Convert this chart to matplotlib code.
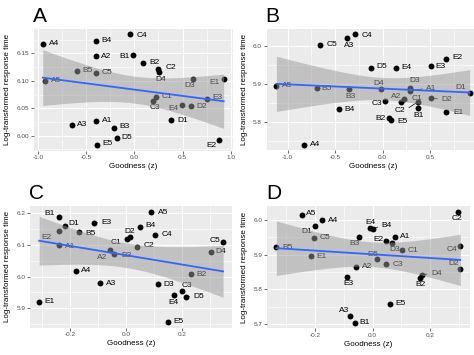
import numpy as np
import matplotlib
matplotlib.use("Agg")
import matplotlib.pyplot as plt
from matplotlib.ticker import MultipleLocator

plt.rcParams['font.family'] = ['Liberation Sans', 'DejaVu Sans']

# ---------------- data ----------------
names = ['A1', 'A2', 'A3', 'A4', 'A5', 'B1', 'B2', 'B3', 'B4', 'B5',
         'C1', 'C2', 'C3', 'C4', 'C5', 'D1', 'D2', 'D3', 'D4', 'D5',
         'E1', 'E2', 'E3', 'E4', 'E5']

panel_letters = ['A', 'B', 'C', 'D']

x_A = [-0.398, -0.401, -0.651, -0.952, -0.927, -0.017, 0.093, -0.208, -0.401, -0.599,
       0.228, 0.249, 0.197, -0.045, -0.398, 0.384, 0.588, 0.612, 0.253, -0.183,
       0.927, 0.882, 0.751, 0.491, -0.388]
y_A = [6.026, 6.145, 6.020, 6.168, 6.100, 6.148, 6.132, 6.014, 6.172, 6.118,
       6.070, 6.121, 6.064, 6.185, 6.114, 6.028, 6.054, 6.104, 6.116, 5.996,
       6.104, 5.992, 6.067, 6.056, 5.983]

x_B = [0.284, 0.221, -0.372, -0.832, -1.119, 0.372, 0.063, -0.351, -0.463, -0.691,
       0.196, 0.372, 0.028, -0.288, -0.656, 0.916, 0.512, 0.284, -0.021, -0.126,
       0.670, 0.667, 0.505, 0.140, 0.091]
y_B = [5.880, 5.860, 6.020, 5.739, 5.894, 5.835, 5.810, 5.885, 5.833, 5.888,
       5.852, 5.852, 5.854, 6.030, 6.002, 5.874, 5.863, 5.889, 5.885, 5.942,
       5.825, 5.964, 5.946, 5.941, 5.804]

x_C = [-0.242, -0.058, -0.094, -0.180, 0.090, -0.242, 0.230, -0.043, 0.049, -0.169,
       0.002, 0.040, 0.199, 0.104, 0.346, -0.218, 0.014, 0.114, 0.301, 0.215,
       -0.311, -0.242, -0.117, 0.171, 0.149]
y_C = [6.100, 6.085, 5.979, 6.019, 6.206, 6.190, 6.008, 6.070, 6.156, 6.142,
       6.119, 6.095, 5.953, 6.133, 6.108, 6.161, 6.124, 5.976, 6.078, 5.936,
       5.920, 6.145, 6.170, 5.941, 5.856]

x_D = [0.078, -0.057, -0.078, -0.177, -0.246, -0.061, 0.166, -0.049, 0.001, -0.335,
       0.102, 0.298, 0.048, 0.305, -0.203, -0.201, 0.304, 0.066, 0.172, 0.016,
       -0.215, 0.048, -0.088, -0.009, 0.061]
y_D = [5.951, 5.865, 5.724, 5.999, 6.014, 5.704, 5.833, 5.951, 5.974, 5.921,
       5.912, 6.023, 5.872, 5.924, 5.949, 5.981, 5.860, 5.933, 5.842, 5.886,
       5.896, 5.940, 5.835, 5.977, 5.758]

x_ticks_A = [-1.0, -0.5, 0.0, 0.5, 1.0]
y_ticks_A = [6.00, 6.05, 6.10, 6.15]
x_ticks_B = [-1.0, -0.5, 0.0, 0.5]
y_ticks_B = [5.8, 5.9, 6.0]
x_ticks_C = [-0.2, 0.0, 0.2]
y_ticks_C = [5.9, 6.0, 6.1, 6.2]
x_ticks_D = [-0.2, 0.0, 0.2]
y_ticks_D = [5.7, 5.8, 5.9, 6.0]

x_label = 'Goodness (z)'
y_label = 'Log-transformed response time'

# ---------------- layout / style ----------------
W, H = 474, 355
# panel boxes in pixels: left, top, right, bottom
boxes = {'A': (33.7, 28.7, 232.7, 150.5),
         'B': (266.7, 28.7, 479.3, 150.3),
         'C': (30.0, 206.0, 232.3, 327.5),
         'D': (267.2, 206.3, 469.5, 328.3)}
col_left = {'A': 0, 'B': 237, 'C': 0, 'D': 237}

# label offsets (pixels, dy up) and which ones get a segment
offsets = {
    'A': {'A4': (11.3, 0), 'B4': (10.3, 0.7), 'A2': (10.3, 0), 'C4': (11.7, -1.7),
          'B1': (-8.7, -1.7), 'B2': (10.7, 0.7), 'C2': (12.3, 2.3), 'D4': (2.3, -7),
          'B5': (10.7, 0.7), 'C5': (11, 0.7), 'A5': (11, 0), 'D3': (-3.3, -7),
          'E1': (-8.7, -4), 'C1': (11, 1), 'C3': (2, -7), 'E4': (-8, -3.3),
          'D2': (10.3, 0), 'E3': (11, 1.7), 'A3': (10.7, 0), 'A1': (10.7, 1),
          'B3': (10.3, 1), 'D1': (11.7, 0), 'D5': (10.3, 0), 'E5': (10.3, 1),
          'E2': (-7.7, -5)},
    'B': {'C4': (12, -1), 'A3': (2, -7), 'C5': (11.3, 0), 'D5': (11, 1), 'E4': (11, 1),
          'E3': (10.3, 0), 'E2': (11, 1.7), 'A5': (10.7, 0), 'B5': (10, 0),
          'B3': (1.3, -6.7), 'D4': (-2, 6), 'D3': (5, 7.7), 'A1': (22, 3),
          'A2': (-8, 2), 'C1': (15.7, 3), 'C2': (-18.3, -8.3), 'C3': (-8.3, -2.7),
          'B1': (0.7, -7.3), 'D2': (15.7, -2), 'E1': (12.3, 0), 'D1': (-9.3, 6.3),
          'B4': (11, 0), 'B2': (-7.7, -1), 'E5': (11.3, -1.3), 'A4': (11.3, 0)},
    'C': {'B1': (-8.7, 3), 'D1': (8.7, 2.7), 'E2': (-12, -6.7), 'A1': (12, -1.7),
          'B5': (11.3, -1.7), 'E3': (13, 0.7), 'A5': (11.3, -0.7), 'B4': (10.7, 2.3),
          'C4': (11.3, 0), 'D2': (-0.3, 6), 'C1': (-11.3, -4), 'A2': (-8.3, -7.3),
          'B3': (12.3, -1.3), 'C2': (11.3, 0.7), 'C5': (-8.3, 2.3), 'D4': (10.3, 0),
          'A4': (10.7, 0), 'A3': (11, 0), 'B2': (11, 0), 'D3': (11, 0),
          'C3': (4.7, 6), 'E4': (-1, -7), 'D5': (12.7, 0), 'E1': (10.7, 0),
          'E5': (10.7, 0)},
    'D': {'A5': (9.7, 1.7), 'A4': (11, 0), 'D1': (-8, -5), 'C5': (11, 0),
          'B5': (10.7, 0), 'E1': (10.7, 0), 'E4': (0.3, 5.7), 'B4': (14, 3.3),
          'E2': (-8.3, 1.3), 'A1': (10.3, 0), 'B3': (-4, -7), 'D3': (3.3, -6.3),
          'C1': (11, 0), 'D5': (-4.3, 5.3), 'C3': (11.7, 0), 'A2': (11, 0),
          'E3': (0.7, -6.7), 'D4': (14.3, 1.3), 'B2': (0, -6.7), 'C2': (-1.3, -6.7),
          'C4': (-8.3, -3.7), 'D2': (-6.3, 4.7), 'E5': (10.7, 0), 'A3': (-6, 5.3),
          'B1': (9.7, 0)},
}
segments = {'A': set(), 'B': {'A1', 'C2', 'D2', 'C1'}, 'C': {'E3', 'D5'}, 'D': {'B4', 'D4'}}

panel_data = {'A': (x_A, y_A, x_ticks_A, y_ticks_A),
              'B': (x_B, y_B, x_ticks_B, y_ticks_B),
              'C': (x_C, y_C, x_ticks_C, y_ticks_C),
              'D': (x_D, y_D, x_ticks_D, y_ticks_D)}

T_CRIT = 2.0687  # t(0.975, df=23)

fig = plt.figure(figsize=(W / 100, H / 100), dpi=100)
fig.patch.set_facecolor('white')

for letter in panel_letters:
    xs, ys, xt, yt = panel_data[letter]
    x = np.asarray(xs)
    y = np.asarray(ys)
    l, t, r, b = boxes[letter]
    ax = fig.add_axes([l / W, 1 - b / H, (r - l) / W, (b - t) / H])
    ax.set_facecolor('#EBEBEB')
    for s in ax.spines.values():
        s.set_visible(False)

    # linear fit with 95% CI
    n = len(x)
    slope, intercept = np.polyfit(x, y, 1)
    resid = y - (slope * x + intercept)
    s_err = np.sqrt(np.sum(resid ** 2) / (n - 2))
    xbar = x.mean()
    sxx = np.sum((x - xbar) ** 2)
    xf = np.linspace(x.min(), x.max(), 80)
    yf = slope * xf + intercept
    se = s_err * np.sqrt(1 / n + (xf - xbar) ** 2 / sxx)
    lo, hi = yf - T_CRIT * se, yf + T_CRIT * se

    # ggplot-like limits
    xmin, xmax = x.min(), x.max()
    ymin, ymax = min(y.min(), lo.min()), max(y.max(), hi.max())
    ex = 0.05 * (xmax - xmin)
    ey = 0.05 * (ymax - ymin)
    ax.set_xlim(xmin - ex, xmax + ex)
    ax.set_ylim(ymin - ey, ymax + ey)

    ax.set_xticks(xt)
    ax.set_yticks(yt)
    ax.xaxis.set_minor_locator(MultipleLocator((xt[1] - xt[0]) / 2))
    ax.yaxis.set_minor_locator(MultipleLocator((yt[1] - yt[0]) / 2))
    ax.grid(which='major', color='white', lw=0.8)
    ax.grid(which='minor', color='white', lw=0.4)
    ax.set_axisbelow(True)
    ax.set_xticklabels(['%.1f' % v for v in xt])
    if letter == 'A':
        ax.set_yticklabels(['%.2f' % v for v in yt])
    else:
        ax.set_yticklabels(['%.1f' % v for v in yt])
    ax.tick_params(which='major', length=2, width=0.5, color='#333333',
                   labelsize=4.6, labelcolor='#4D4D4D', pad=1.5)
    ax.tick_params(which='minor', length=0)

    ax.scatter(x, y, s=18, color='black', zorder=2, linewidths=0)

    for nm, xi, yi in zip(names, x, y):
        dx, dy = offsets[letter][nm]
        kw = {}
        if nm in segments[letter]:
            kw['arrowprops'] = dict(arrowstyle='-', lw=0.5, color='black',
                                    shrinkA=1, shrinkB=1.5,
                                    relpos=(0, 0.5) if dx > 0 else (1, 0.5))
        ax.annotate(nm, (xi, yi), xytext=(dx, dy), textcoords='offset pixels',
                    ha='center', va='center', fontsize=6.0, color='black',
                    zorder=3, **kw)

    ax.fill_between(xf, lo, hi, color='#999999', alpha=0.5, lw=0, zorder=4)
    ax.plot(xf, yf, color='#3366FF', lw=1.3, zorder=5)

    ax.set_xlabel(x_label, fontsize=5.8, color='black', labelpad=2)
    ax.set_ylabel(y_label, fontsize=5.8, color='black')
    wpx = r - l
    ylab_x = col_left[letter] + 11
    ax.yaxis.set_label_coords((ylab_x - l) / wpx, 0.5)

    fig.text((l - 1) / W, 1 - (t - 7) / H, letter, fontsize=15, ha='left',
             va='baseline', color='black')

fig.savefig('out.png', dpi=100)
